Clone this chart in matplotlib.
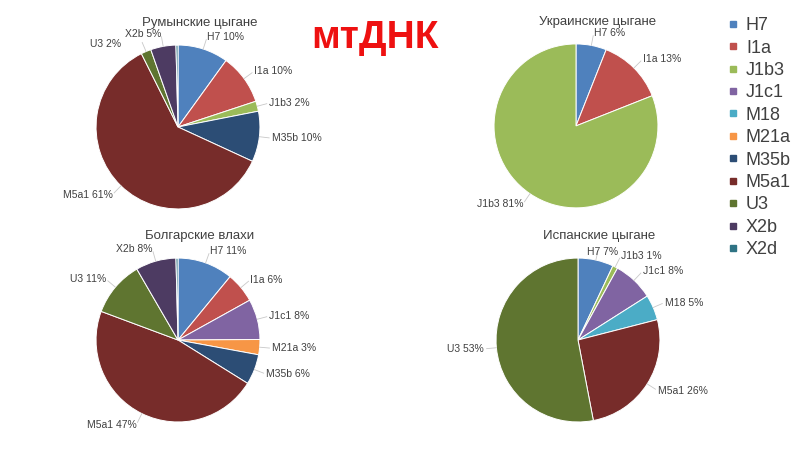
import matplotlib
matplotlib.use("Agg")
import numpy as np
import matplotlib.pyplot as plt
from matplotlib.lines import Line2D

plt.rcParams["font.family"] = ["Liberation Sans", "DejaVu Sans"]

# гаплогруппы и цвета легенды
haplogroups = ["H7", "I1a", "J1b3", "J1c1", "M18", "M21a", "M35b", "M5a1", "U3", "X2b", "X2d"]
hap_colors = ["#4f81bd", "#c0504d", "#9bbb59", "#8064a2", "#4bacc6", "#f79646",
              "#2c4d75", "#772c2a", "#5f7530", "#4d3b62", "#2f7384"]

rom_title = "Румынские цыгане"
rom_groups = ["H7", "I1a", "J1b3", "M35b", "M5a1", "U3", "X2b", "X2d"]
rom_values = [10, 10, 2, 10, 61, 2, 5, 0.4]

ukr_title = "Украинские цыгане"
ukr_groups = ["H7", "I1a", "J1b3"]
ukr_values = [6, 13, 81]

bul_title = "Болгарские влахи"
bul_groups = ["H7", "I1a", "J1c1", "M21a", "M35b", "M5a1", "U3", "X2b", "X2d"]
bul_values = [11, 6, 8, 3, 6, 47, 11, 8, 0.4]

spa_title = "Испанские цыгане"
spa_groups = ["H7", "J1b3", "J1c1", "M18", "M5a1", "U3"]
spa_values = [7, 1, 8, 5, 26, 53]

color_of = dict(zip(haplogroups, hap_colors))
text_grey = "#404040"

fig = plt.figure(figsize=(8, 4.5), dpi=100)
fig.patch.set_facecolor("white")


# Рисует одну круговую диаграмму с подписями снаружи
def draw_pie(rect, title, groups, values):
    ax = fig.add_axes(rect)
    ax.pie(values, colors=[color_of[g] for g in groups], startangle=90,
           counterclock=False, radius=1,
           wedgeprops=dict(edgecolor="white", linewidth=0.7))
    ax.set_xlim(-1.22, 1.22)
    ax.set_ylim(-1.22, 1.22)
    ax.set_aspect("equal")
    ax.axis("off")

    total = float(sum(values))
    cum = 0.0
    labels = []
    for g, v in zip(groups, values):
        frac = (cum + v / 2.0) / total
        cum += v
        if v < 1:
            continue
        a = 2 * np.pi * frac
        ux, uy = np.sin(a), np.cos(a)
        ax.plot([ux, ux * 1.12], [uy, uy * 1.12], color="#c8c8c8", lw=0.6, clip_on=False)
        if ux > 0.08:
            ha = "left"
        elif ux < -0.08:
            ha = "right"
        else:
            ha = "center"
        t = ax.text(ux * 1.15, uy * 1.15, "%s %g%%" % (g, v), ha=ha, va="center",
                    fontsize=7.5, color=text_grey)
        labels.append(t)
    ax.text(0.26, 1.27, title, ha="center", va="center", fontsize=9.5, color=text_grey)

    # раздвигаем пересекающиеся подписи: предыдущую сдвигаем влево
    r = fig.canvas.get_renderer()
    px = ax.transData.transform((1, 0))[0] - ax.transData.transform((0, 0))[0]
    for i in range(len(labels) - 1):
        b1 = labels[i].get_window_extent(r)
        b2 = labels[i + 1].get_window_extent(r)
        if b1.overlaps(b2):
            dx = (b1.x1 - b2.x0 + 3) / px
            x, y = labels[i].get_position()
            labels[i].set_position((x - dx, y - 4.0 / px))
    return ax


draw_pie([0.0975, 0.4956, 0.25, 0.4444], rom_title, rom_groups, rom_values)
draw_pie([0.595, 0.498, 0.25, 0.4444], ukr_title, ukr_groups, ukr_values)
draw_pie([0.0975, 0.0222, 0.25, 0.4444], bul_title, bul_groups, bul_values)
draw_pie([0.5975, 0.0222, 0.25, 0.4444], spa_title, spa_groups, spa_values)

fig.text(0.469, 0.915, "мтДНК", ha="center", va="center", fontsize=28,
         fontweight="bold", color="#ee1111")

handles = [Line2D([], [], marker="s", ls="none", markersize=5,
                  markerfacecolor=c, markeredgecolor=c) for c in hap_colors]
fig.legend(handles, haplogroups, loc="upper left", bbox_to_anchor=(0.902, 0.978),
           frameon=False, fontsize=13, handlelength=0.5, handletextpad=0.45,
           labelspacing=0.3, borderaxespad=0, labelcolor=text_grey)

fig.savefig("out.png", dpi=100)
